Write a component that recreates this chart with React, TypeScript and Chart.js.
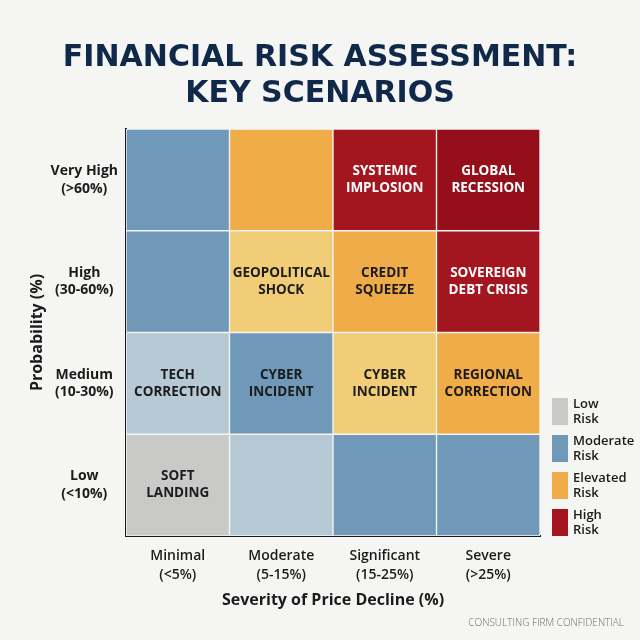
import { useEffect, useRef } from 'react';
import { Chart, registerables } from 'chart.js';

Chart.register(...registerables);

// Severity buckets (x axis), left to right
const severityLabels: string[][] = [
  ['Minimal', '(<5%)'],
  ['Moderate', '(5-15%)'],
  ['Significant', '(15-25%)'],
  ['Severe', '(>25%)'],
];

// Probability buckets (y axis), bottom to top
const probabilityLabels: string[][] = [
  ['Low', '(<10%)'],
  ['Medium', '(10-30%)'],
  ['High', '(30-60%)'],
  ['Very High', '(>60%)'],
];

// Risk shade per cell, rows bottom to top, columns by severity
const riskShade: number[][] = [
  [1, 2, 3, 3],
  [2, 3, 4, 5],
  [3, 4, 5, 6],
  [3, 5, 6, 7],
];

// Scenario names per cell, rows bottom to top
const scenarioNames: string[][][] = [
  [['SOFT', 'LANDING'], [], [], []],
  [['TECH', 'CORRECTION'], ['CYBER', 'INCIDENT'], ['CYBER', 'INCIDENT'], ['REGIONAL', 'CORRECTION']],
  [[], ['GEOPOLITICAL', 'SHOCK'], ['CREDIT', 'SQUEEZE'], ['SOVEREIGN', 'DEBT CRISIS']],
  [[], [], ['SYSTEMIC', 'IMPLOSION'], ['GLOBAL', 'RECESSION']],
];

const titleLines = ['FINANCIAL RISK ASSESSMENT:', 'KEY SCENARIOS'];

const legendLabels: string[][] = [
  ['Low', 'Risk'],
  ['Moderate', 'Risk'],
  ['Elevated', 'Risk'],
  ['High', 'Risk'],
];

const shadeColors: Record<number, string> = {
  1: '#c9cac8',
  2: '#b8c9d6',
  3: '#7099b9',
  4: '#f2cd77',
  5: '#f0ac49',
  6: '#a3161f',
  7: '#950f1a',
};
const legendShades = [1, 3, 5, 6];

const FONT = "'Open Sans', 'Noto Sans', sans-serif";
const TITLE_FONT = "'DejaVu Sans', 'Open Sans', sans-serif";
const BG = '#f5f5f3';
const INK = '#1b1b1b';

const backgroundPlugin = {
  id: 'pageBackground',
  beforeDraw(chart: Chart) {
    const { ctx, width, height } = chart;
    ctx.save();
    ctx.fillStyle = BG;
    ctx.fillRect(0, 0, width, height);
    ctx.restore();
  },
};

// Page title, centred across the whole canvas (not just the plot area)
const pageTitlePlugin = {
  id: 'pageTitle',
  afterDraw(chart: Chart) {
    const { ctx, width } = chart;
    ctx.save();
    ctx.font = `bold 30px ${TITLE_FONT}`;
    ctx.fillStyle = '#10294a';
    ctx.textAlign = 'center';
    ctx.textBaseline = 'middle';
    titleLines.forEach((t, i) => ctx.fillText(t, width / 2, 58 + i * 36));
    ctx.restore();
  },
};

const cellLabelPlugin = {
  id: 'cellLabels',
  afterDatasetsDraw(chart: Chart) {
    const { ctx } = chart;
    ctx.save();
    ctx.font = `bold 13.5px ${FONT}`;
    ctx.textAlign = 'center';
    ctx.textBaseline = 'middle';
    chart.data.datasets.forEach((_, r) => {
      const meta = chart.getDatasetMeta(r);
      meta.data.forEach((el: any, c) => {
        const lines = scenarioNames[r][c];
        if (!lines.length) return;
        const cx = el.x;
        const cy = (el.y + el.base) / 2;
        ctx.fillStyle = riskShade[r][c] >= 6 ? '#ffffff' : INK;
        const lh = 17;
        lines.forEach((t, i) => {
          ctx.fillText(t, cx, cy + (i - (lines.length - 1) / 2) * lh);
        });
      });
    });
    ctx.restore();
  },
};

const sideLegendPlugin = {
  id: 'sideLegend',
  afterDraw(chart: Chart) {
    const { ctx, chartArea } = chart;
    const x = chartArea.right + 12;
    const boxW = 16;
    const boxH = 27;
    const pitch = 37;
    ctx.save();
    ctx.font = `600 13px ${FONT}`;
    ctx.textAlign = 'left';
    ctx.textBaseline = 'middle';
    legendLabels.forEach((lines, i) => {
      const top = chartArea.bottom - boxH - (legendLabels.length - 1 - i) * pitch;
      ctx.fillStyle = shadeColors[legendShades[i]];
      ctx.fillRect(x, top, boxW, boxH);
      ctx.fillStyle = INK;
      lines.forEach((t, j) => {
        ctx.fillText(t, x + boxW + 5, top + 6 + j * 15);
      });
    });
    ctx.restore();
  },
};

const footerPlugin = {
  id: 'footerNote',
  afterDraw(chart: Chart) {
    const { ctx, width, height } = chart;
    ctx.save();
    ctx.font = `300 10px ${FONT}`;
    ctx.fillStyle = '#6e6e6e';
    ctx.textAlign = 'right';
    ctx.textBaseline = 'middle';
    ctx.fillText('CONSULTING FIRM CONFIDENTIAL', width - 16, height - 17);
    ctx.restore();
  },
};

export default function App() {
  const canvasRef = useRef<HTMLCanvasElement>(null);

  useEffect(() => {
    if (!canvasRef.current) return;
    const datasets = probabilityLabels.map((p, r) => ({
      label: p.join(' '),
      data: severityLabels.map(() => [r, r + 1]),
      backgroundColor: riskShade[r].map((s) => shadeColors[s]),
      borderColor: BG,
      borderWidth: 1,
      borderSkipped: false,
      barPercentage: 1,
      categoryPercentage: 1,
      grouped: false,
    }));

    const chart = new Chart(canvasRef.current, {
      type: 'bar',
      data: {
        labels: severityLabels as any,
        datasets: datasets as any,
      },
      options: {
        animation: false,
        responsive: false,
        devicePixelRatio: 1,
        layout: { padding: { top: 129, right: 100, bottom: 0, left: 0 } },
        plugins: {
          legend: { display: false },
          tooltip: { enabled: false },
          title: { display: false },
        },
        scales: {
          x: {
            type: 'category',
            grid: { display: false, drawTicks: false },
            border: { display: true, color: '#1a1a1a', width: 2 },
            ticks: {
              color: INK,
              font: { family: FONT, size: 14, weight: 600, lineHeight: 1.4 },
              padding: 10,
              maxRotation: 0,
              autoSkip: false,
            },
            title: {
              display: true,
              text: 'Severity of Price Decline (%)',
              color: INK,
              font: { family: FONT, size: 16, weight: 'bold', lineHeight: 1.2 },
              padding: { top: 0, bottom: 30 },
            },
            afterFit(scale: any) {
              scale.height = 104;
            },
          },
          y: {
            type: 'linear',
            min: 0,
            max: probabilityLabels.length,
            grid: { display: false, drawTicks: false },
            border: { display: true, color: '#1a1a1a', width: 2 },
            afterBuildTicks(scale: any) {
              scale.ticks = probabilityLabels.map((_, i) => ({ value: i + 0.5 }));
            },
            ticks: {
              color: INK,
              crossAlign: 'center',
              font: { family: FONT, size: 14, weight: 'bold', lineHeight: 1.25 },
              padding: 8,
              callback(value: any) {
                return probabilityLabels[Math.floor(Number(value))];
              },
            },
            title: {
              display: true,
              text: 'Probability (%)',
              color: INK,
              font: { family: FONT, size: 16, weight: 'bold', lineHeight: 1.2 },
              padding: { top: 28, bottom: 0 },
            },
            afterFit(scale: any) {
              scale.width = 126;
            },
          },
        },
      } as any,
      plugins: [backgroundPlugin, pageTitlePlugin, cellLabelPlugin, sideLegendPlugin, footerPlugin],
    });

    return () => chart.destroy();
  }, []);

  return (
    <div style={{ position: 'absolute', left: 0, top: 0, width: 640, height: 640 }}>
      <canvas ref={canvasRef} width={640} height={640} />
    </div>
  );
}
